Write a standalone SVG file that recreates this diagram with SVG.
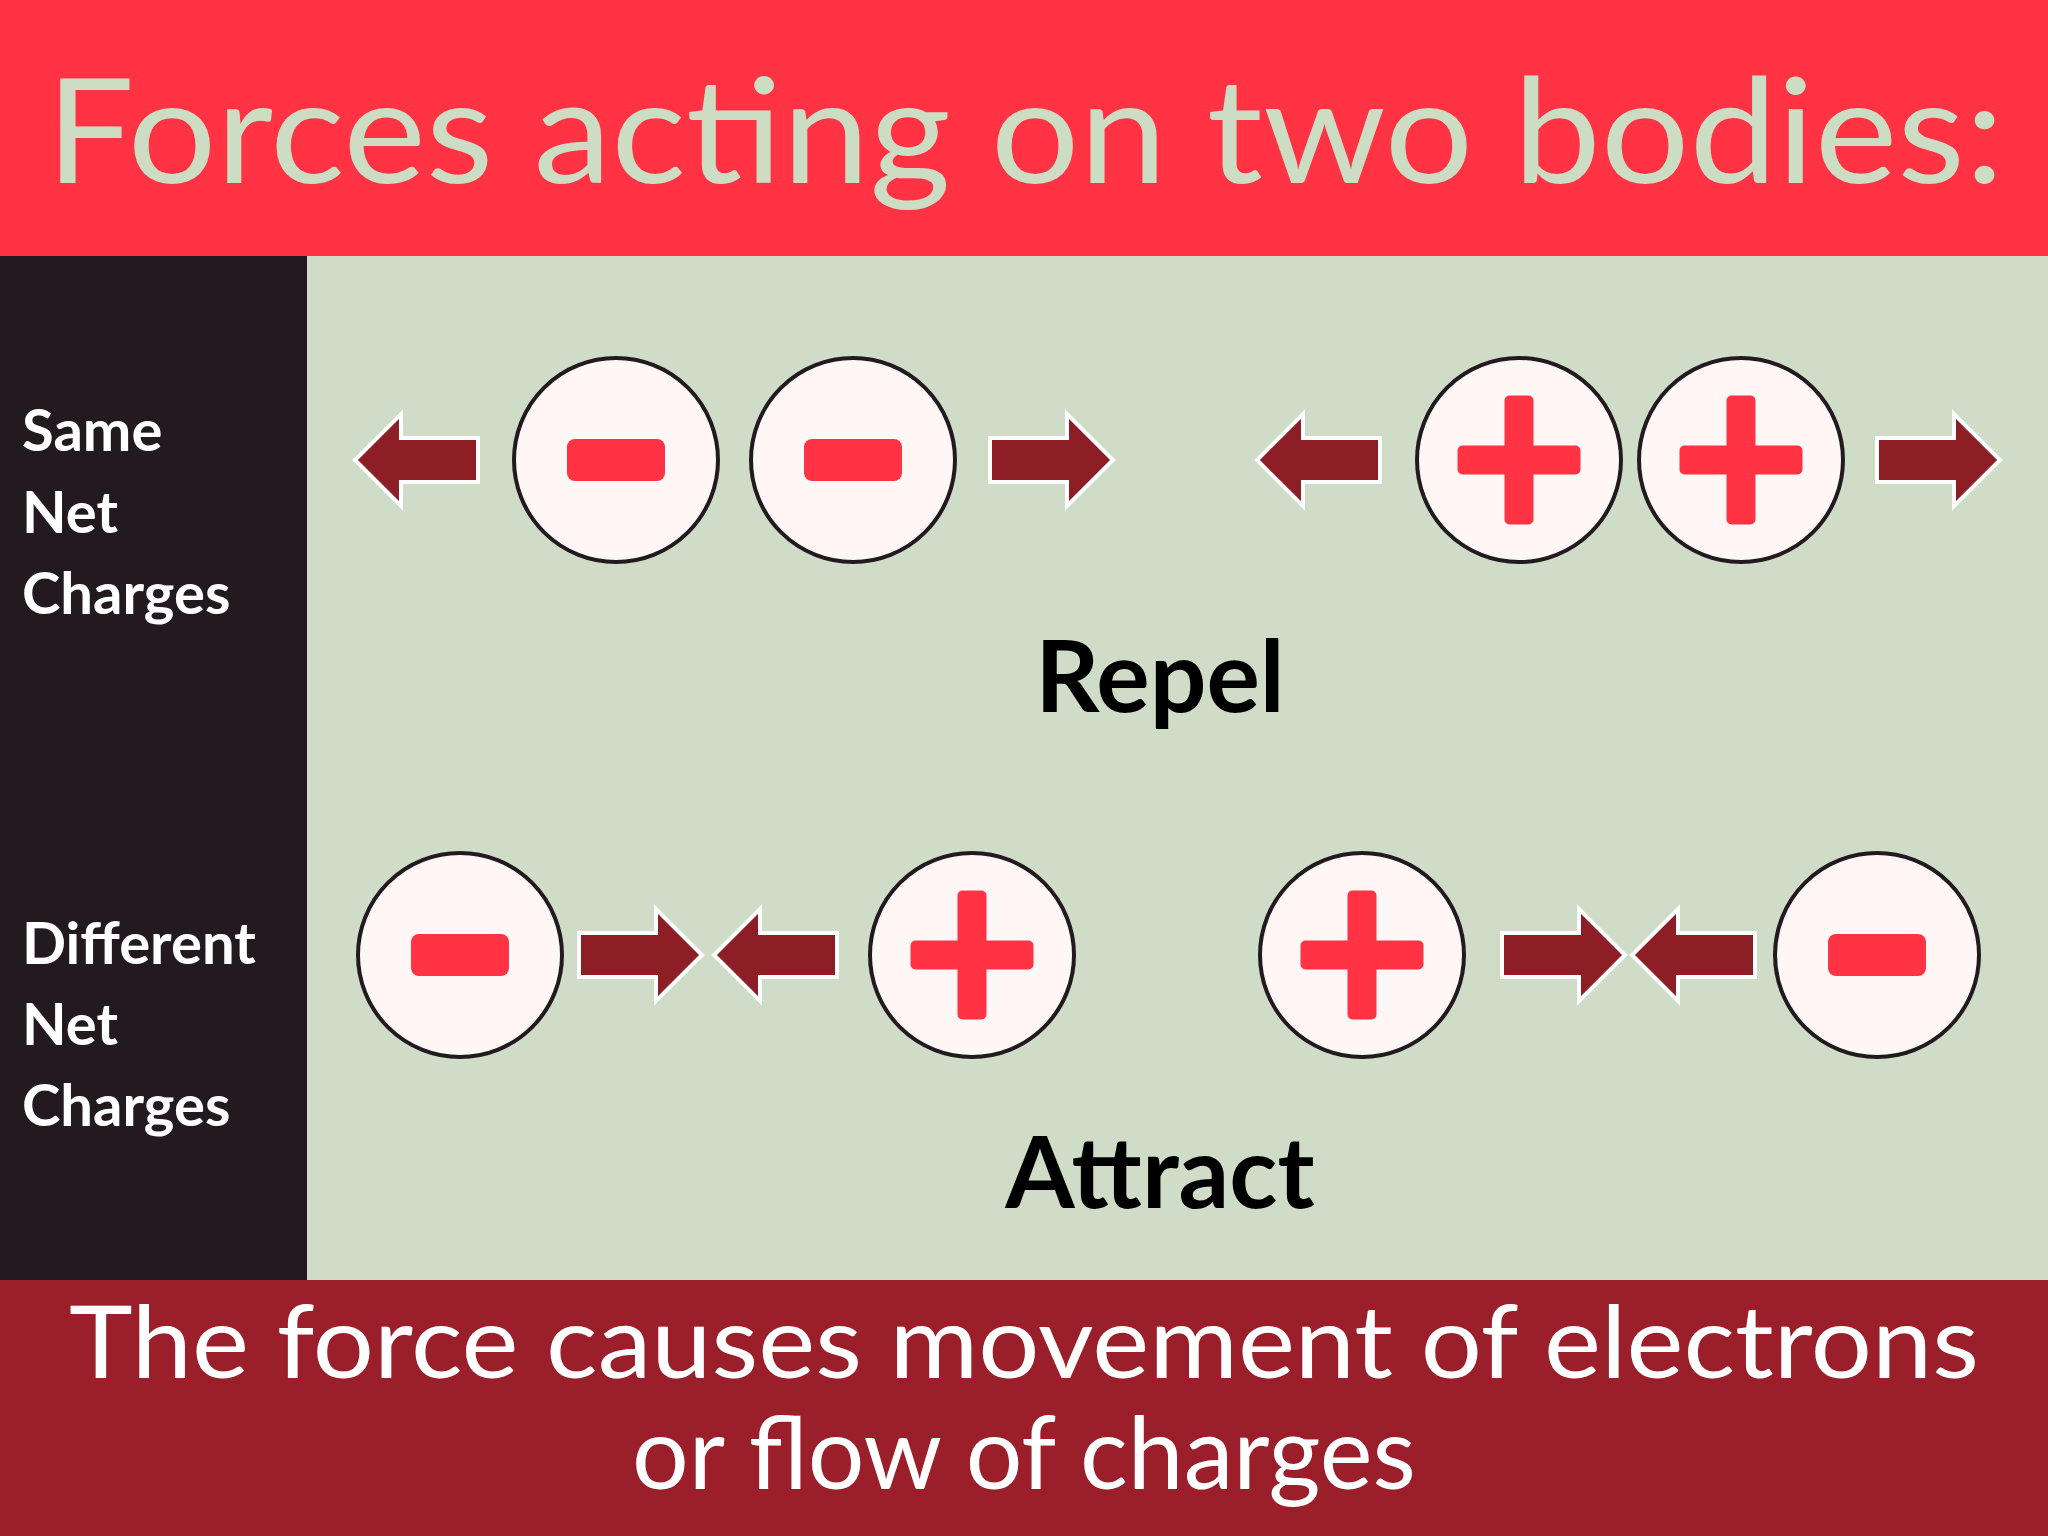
<svg xmlns="http://www.w3.org/2000/svg" width="2048" height="1536" viewBox="0 0 2048 1536">
<defs>
<style>
.c{fill:#FFF6F6;stroke:#231A20;stroke-width:4}
.m{fill:#FF3344}
.a{fill:#8E1E25;stroke:#FFFFFF;stroke-width:4}
.lbl{font-family:Lato,"Open Sans",sans-serif;font-weight:bold;font-size:58px;fill:#FFFFFF}
.big{font-family:Lato,"Open Sans",sans-serif;font-weight:bold;font-size:100px;fill:#000000;text-anchor:middle}
</style>
<path id="arr" d="M0,-22 H77 V-46 L123,0 L77,46 V22 H0 Z"/>
<g id="minus"><circle class="c" r="102"/><rect class="m" x="-49" y="-21" width="98" height="42" rx="8"/></g>
<g id="plus"><circle class="c" r="102"/><rect class="m" x="-14.5" y="-64.5" width="29" height="129" rx="5"/><rect class="m" x="-61.5" y="-14.5" width="123" height="29" rx="5"/></g>
</defs>
<rect x="0" y="0" width="2048" height="256" fill="#FF3344"/>
<rect x="0" y="256" width="307" height="1024" fill="#231A20"/>
<rect x="307" y="256" width="1741" height="1024" fill="#CFDCC7"/>
<rect x="0" y="1280" width="2048" height="256" fill="#9B1F2A"/>
<g id="title"><text x="46" y="183" font-family="Lato,'Open Sans',sans-serif" font-size="146" fill="#CCDDC4" textLength="1958" lengthAdjust="spacingAndGlyphs">Forces acting on two bodies:</text></g>
<g id="labels">
<text class="lbl" x="22" y="451">Same</text><text class="lbl" x="22" y="533">Net</text><text class="lbl" x="22" y="614">Charges</text>
<text class="lbl" x="22" y="964">Different</text><text class="lbl" x="22" y="1045">Net</text><text class="lbl" x="22" y="1126">Charges</text>
<text class="big" x="1160" y="712">Repel</text>
<text class="big" x="1160" y="1208">Attract</text>
</g>
<g id="n1"><use href="#minus" x="616" y="460"/></g>
<g id="n2"><use href="#minus" x="853" y="460"/></g>
<g id="n3"><use href="#plus" x="1519" y="460"/></g>
<g id="n4"><use href="#plus" x="1741" y="460"/></g>
<g id="n5"><use href="#minus" x="460" y="955"/></g>
<g id="n6"><use href="#plus" x="972" y="955"/></g>
<g id="n7"><use href="#plus" x="1362" y="955"/></g>
<g id="n8"><use href="#minus" x="1877" y="955"/></g>
<g id="connectors">
<use href="#arr" class="a" transform="translate(478,460) scale(-1,1)"/>
<use href="#arr" class="a" transform="translate(990,460)"/>
<use href="#arr" class="a" transform="translate(1380,460) scale(-1,1)"/>
<use href="#arr" class="a" transform="translate(1877,460)"/>
<use href="#arr" class="a" transform="translate(579,955)"/>
<use href="#arr" class="a" transform="translate(837,955) scale(-1,1)"/>
<use href="#arr" class="a" transform="translate(1502,955)"/>
<use href="#arr" class="a" transform="translate(1755,955) scale(-1,1)"/>
</g>
<g id="footer" font-family="Lato,'Open Sans',sans-serif" font-size="100" fill="#FFFFFF" text-anchor="middle">
<text x="1024" y="1378" textLength="1910" lengthAdjust="spacingAndGlyphs">The force causes movement of electrons</text>
<text x="1024" y="1489">or flow of charges</text>
</g>
</svg>
